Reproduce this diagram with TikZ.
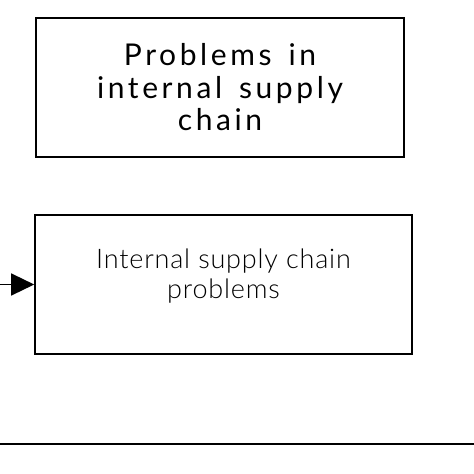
\documentclass[tikz,border=0pt]{standalone}
\usepackage{fontspec}
\setmainfont{Lato}
\newfontfamily\spacedfont[LetterSpace=12, WordSpace=1.5]{Lato}
\newfontfamily\lightfont[LetterSpace=3]{Lato Light}
\usetikzlibrary{arrows.meta}

\begin{document}
\begin{tikzpicture}[x=1pt, y=-1pt, line width=1.6pt,
  box/.style={draw, line width=1.6pt, align=center, inner sep=0pt}]

% Page frame
\useasboundingbox (0,0) rectangle (474,474);

% Top box
\node[box, minimum width=368pt, minimum height=139pt] (problems) at (220,87.5) {};
\node[align=center, font=\spacedfont\fontsize{30}{32.5}\selectfont] (problems_txt) at (problems.center) {Problems in\\internal supply\\chain};

% Lower box
\node[box, minimum width=377pt, minimum height=139pt] (internal) at (223.5,284.5) {};
\node[align=center, font=\lightfont\fontsize{27}{30}\selectfont] (internal_txt) at ([yshift=8pt]internal.center) {Internal supply chain\\problems};

% Incoming arrow
\coordinate (arrow_in) at (0,284.5);
\draw[line width=1.4pt, -{Triangle[length=23pt, width=22pt]}] (arrow_in) -- (internal.west);

% Bottom rule
\coordinate (rule_l) at (0,444);
\coordinate (rule_r) at (474,444);
\draw[line width=1.8pt] (rule_l) -- (rule_r);

\end{tikzpicture}
\end{document}
